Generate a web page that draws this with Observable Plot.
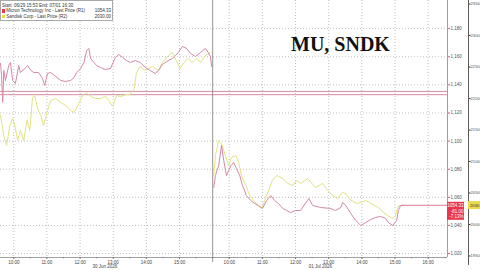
<!DOCTYPE html>
<html><head><meta charset="utf-8">
<script src="https://cdn.jsdelivr.net/npm/d3@7"></script>
<script src="https://cdn.jsdelivr.net/npm/@observablehq/plot@0.6"></script>
<style>
html,body{margin:0;padding:0;background:#fff;}
#wrap{position:relative;width:480px;height:270px;overflow:hidden;background:#fff;}
#legend{position:absolute;left:0;top:0;width:113px;height:21px;border:0.8px solid #a8a8a8;background:#fff;box-sizing:border-box;padding:1.6px 1px 0 1px;font:4.5px "Liberation Sans",Arial,sans-serif;color:#333;line-height:5.6px;}
#legend .row{display:flex;align-items:center;white-space:nowrap;}
#legend .sw{width:3px;height:3.4px;margin-right:1.2px;flex:none;}
#legend .lab{flex:1;}
#legend .val{text-align:right;}
#title{position:absolute;left:291px;top:34px;font:bold 20px "Liberation Serif","Times New Roman",serif;color:#111;line-height:20px;white-space:nowrap;}
</style></head>
<body><div id="wrap"></div>
<script>
// ---------------- data ----------------
const muName = "Micron Technology Inc - Last Price (R1)";
const sndkName = "Sandisk Corp - Last Price (R2)";
const titleText = "MU, SNDK";
const rangeText = "Start: 06/29 15:53 End: 07/01 16:30";
const dayLabels = ["30 Jun 2026", "01 Jul 2026"];

const muLast = 1054.33;
const muChange = -81.00;
const muPct = -7.13;
const sndkLast = 2030.00;
const sndkPrevClose = 2206;

const muTicks = [1020, 1040, 1060, 1080, 1100, 1120, 1140, 1160, 1180];
const sndkTicks = [1950, 2000, 2050, 2100, 2150, 2200, 2250, 2300, 2350];
const muDomain = [1017.2, 1200];
const sndkDomain = [1947.6, 2355.5];
const day1Hours = ["10:00", "11:00", "12:00", "13:00", "14:00", "15:00"];
const day2Hours = ["10:00", "11:00", "12:00", "13:00", "14:00", "15:00", "16:00"];
const sessionOpen = "09:30";
const sessionClose = "16:00";
const axisStart = "09:36";
const axisEnd = "16:35";

const muDay1Times = ["09:36","09:38","09:40","09:42","09:45","09:51","09:54","09:58","10:03","10:09","10:12","10:20","10:25","10:31","10:36","10:45","10:52","10:56","11:01","11:07","11:16","11:25","11:34","11:43","11:49","11:54","12:01","12:07","12:12","12:16","12:19","12:25","12:30","12:37","12:46","12:55","13:04","13:10","13:17","13:24","13:31","13:40","13:49","13:58","14:07","14:16","14:22","14:29","14:40","14:47","14:58","15:05","15:13","15:20","15:29","15:38","15:47","15:52","15:56","15:58"];
const muDay1Values = [1155.2,1146.7,1127.5,1150.2,1143.1,1153.8,1155.9,1143.1,1141.0,1153.8,1148.8,1151.6,1153.8,1150.2,1148.8,1148.8,1144.5,1139.5,1148.1,1148.8,1145.9,1143.1,1142.4,1143.1,1145.2,1148.8,1151.6,1155.9,1164.4,1165.9,1158.8,1155.9,1153.8,1152.3,1150.9,1151.6,1159.5,1161.6,1159.5,1157.3,1155.9,1157.3,1155.9,1152.3,1150.2,1148.1,1150.2,1154.5,1157.3,1158.8,1163.0,1167.3,1165.9,1162.3,1160.2,1163.0,1165.9,1163.0,1160.2,1153.1];

const muDay2Times = ["09:32","09:35","09:41","09:46","09:50","09:55","10:03","10:08","10:13","10:19","10:24","10:31","10:39","10:46","10:53","11:00","11:08","11:15","11:22","11:29","11:37","11:44","11:51","12:00","12:09","12:24","12:31","12:45","13:03","13:12","13:22","13:25","13:31","13:40","13:49","13:58","14:07","14:16","14:25","14:34","14:43","14:48","14:56","15:03","15:06","15:10","15:14"];
const muDay2Values = [1067.0,1075.5,1082.7,1096.9,1086.2,1075.5,1082.7,1084.8,1080.5,1075.5,1068.4,1061.3,1057.8,1055.6,1054.2,1052.1,1057.8,1061.3,1057.8,1055.6,1052.1,1050.6,1049.2,1050.6,1050.6,1059.2,1054.2,1052.8,1052.1,1050.6,1052.8,1056.3,1054.2,1048.5,1043.5,1040.0,1042.1,1044.2,1045.7,1046.4,1045.0,1042.1,1040.0,1043.5,1050.6,1054.2,1054.33];

const sndkDay1Times = ["09:36","09:42","09:47","09:53","09:58","10:02","10:07","10:12","10:18","10:24","10:29","10:34","10:38","10:43","10:49","10:54","11:01","11:07","11:16","11:25","11:34","11:43","11:49","11:56","12:05","12:12","12:19","12:28","12:37","12:46","12:52","12:59","13:06","13:14","13:23","13:31","13:38","13:42","13:49","13:56","14:04","14:11","14:22","14:29","14:40","14:47","14:54","15:01","15:08","15:16","15:23","15:30","15:38","15:47","15:56"];
const sndkDay1Values = [2173.0,2141.3,2125.4,2157.1,2168.2,2157.1,2133.3,2149.2,2133.3,2165.1,2149.2,2201.6,2204.7,2184.1,2173.0,2157.1,2180.9,2196.8,2200.0,2193.6,2188.9,2180.9,2177.8,2188.9,2204.7,2209.5,2203.2,2200.0,2200.0,2203.2,2196.8,2187.3,2204.7,2203.2,2206.3,2206.3,2215.8,2241.2,2250.8,2244.4,2247.6,2250.8,2244.4,2257.1,2268.2,2273.0,2260.3,2247.6,2257.1,2263.5,2257.1,2263.5,2257.1,2268.2,2273.0];

const sndkDay2Times = ["09:32","09:35","09:41","09:46","09:50","09:53","09:59","10:04","10:12","10:17","10:22","10:30","10:37","10:44","10:51","10:59","11:04","11:11","11:18","11:26","11:37","11:46","11:55","12:02","12:09","12:22","12:36","12:49","12:58","13:07","13:16","13:25","13:31","13:40","13:52","14:07","14:16","14:30","14:39","14:47","14:56","15:01","15:06","15:14"];
const sndkDay2Values = [2077.8,2109.5,2133.3,2128.6,2117.4,2109.5,2093.6,2106.3,2109.5,2098.4,2077.8,2061.9,2046.0,2038.1,2030.2,2025.4,2038.1,2054.0,2069.8,2077.8,2073.0,2065.1,2061.9,2069.8,2065.1,2073.0,2058.7,2065.1,2054.0,2046.0,2041.3,2050.8,2049.2,2038.1,2033.3,2038.1,2033.3,2027.0,2019.1,2014.3,2009.5,2014.3,2030.2,2030.0];

// ---------------- helpers ----------------
const hrs = s => { const [h, m] = s.split(":").map(Number); return h + m / 60; };
const sessionLen = hrs(sessionClose) - hrs(sessionOpen);
const toT = (day, s) => (day - 1) * sessionLen + hrs(s) - hrs(sessionOpen);
const sToMu = d3.scaleLinear().domain(sndkDomain).range(muDomain);

function series(day, times, values, mapFn) {
  const n = Math.min(times.length, values.length);
  return d3.range(n).map(i => ({day, t: toT(day, times[i]), v: mapFn ? mapFn(values[i]) : values[i]}));
}
const muData = [...series(1, muDay1Times, muDay1Values), ...series(2, muDay2Times, muDay2Values)];
const sndkData = [...series(1, sndkDay1Times, sndkDay1Values, sToMu), ...series(2, sndkDay2Times, sndkDay2Values, sToMu)];

const X0 = toT(1, axisStart), X1 = toT(2, axisEnd);
const hourLabel = new Map();
day1Hours.forEach(h => hourLabel.set(+toT(1, h).toFixed(4), h));
day2Hours.forEach(h => hourLabel.set(+toT(2, h).toFixed(4), h));
const hourT = [...hourLabel.keys()];
const halfT = [];
for (let d = 1; d <= 2; d++) {
  for (let h = 9.5; h <= 16.5; h += 0.5) {
    const t = (d - 1) * sessionLen + h - hrs(sessionOpen);
    if (t >= X0 && t <= X1 && (h % 1) !== 0) halfT.push(t);
  }
}
const midDay = sessionLen / 2;
const dateT = [midDay, sessionLen + midDay];
const lastT = muData[muData.length - 1].t;
const muPrevClose = muLast - muChange;

const pink = "#e0587a";
const chart = Plot.plot({
  width: 480, height: 270,
  marginLeft: 0, marginRight: 33, marginTop: 0, marginBottom: 13,
  style: {fontFamily: '"Liberation Sans", Arial, sans-serif', fontSize: "4.5px", background: "#fff", overflow: "visible"},
  x: {domain: [X0, X1]},
  y: {domain: muDomain},
  marks: [
    Plot.gridX({ticks: hourT, stroke: "#b0b0b0", strokeOpacity: 1, strokeWidth: 0.8, strokeDasharray: "1,2"}),
    Plot.gridY({ticks: muTicks, stroke: "#b0b0b0", strokeOpacity: 1, strokeWidth: 0.8, strokeDasharray: "1,2"}),
    Plot.ruleX([toT(2, sessionOpen)], {stroke: "#7a7a7a", strokeWidth: 0.8, insetBottom: -5}),
    Plot.ruleY([muPrevClose, sToMu(sndkPrevClose)], {stroke: "#c45a7c", strokeWidth: 0.7}),
    Plot.line(sndkData, {x: "t", y: "v", z: "day", stroke: "#e2e283", strokeWidth: 1}),
    Plot.line(muData, {x: "t", y: "v", z: "day", stroke: "#d488a8", strokeWidth: 1}),
    Plot.ruleY([muLast], {x1: () => lastT, x2: () => X1, stroke: pink, strokeWidth: 0.8}),
    Plot.ruleY([muDomain[0]], {stroke: "#8a8a8a", strokeWidth: 0.8}),
    Plot.ruleX([X1], {stroke: pink, strokeWidth: 0.8}),
    Plot.ruleX([X1], {stroke: "#333", strokeWidth: 0.8, dx: 21, insetBottom: -8}),
    Plot.axisX({ticks: hourT, tickFormat: t => hourLabel.get(+t.toFixed(4)), tickSize: 2, tickPadding: 1, stroke: "#777", fill: "#444", label: null}),
    Plot.axisX({ticks: halfT, tickFormat: () => "", tickSize: 1.2, tickPadding: 0, stroke: "#777", label: null}),
    Plot.axisX({ticks: dateT, tickFormat: (t, i) => dayLabels[i], tickSize: 0, tickPadding: 7.5, fill: "#444", label: null}),
    Plot.axisY({anchor: "right", ticks: muTicks, tickSize: 2, tickPadding: 1, stroke: pink, fill: "#555", label: null}),
    Plot.axisY({anchor: "right", ticks: sndkTicks.map(sToMu), tickFormat: v => String(Math.round(sToMu.invert(v))), tickSize: 1.5, tickPadding: 0.5, dx: 21, stroke: "#333", fill: "#555", fontSize: 4.2, label: null}),
    Plot.rect([muLast], {x1: () => X1, x2: () => X1, y1: d => d, y2: d => d, insetLeft: 0, insetRight: -17, insetTop: -3, insetBottom: -15, fill: "#e8344e"}),
    Plot.text([muLast], {x: () => X1, y: d => d, text: () => `${muLast.toFixed(2)}\n${muChange.toFixed(2)}\n${muPct.toFixed(2)}%`, textAnchor: "end", lineAnchor: "top", lineHeight: 1.2, dx: 16, dy: -2, fill: "#fff", fontSize: 4.5}),
    Plot.rect([sToMu(sndkLast)], {x1: () => X1, x2: () => X1, y1: d => d, y2: d => d, insetLeft: 21, insetRight: -40, insetTop: -4, insetBottom: -4, fill: "#eadb4c"}),
    Plot.text([sToMu(sndkLast)], {x: () => X1, y: d => d, text: () => sndkLast.toFixed(0), textAnchor: "start", dx: 22.5, fill: "#333", fontSize: 4.2})
  ]
});

const wrap = document.getElementById("wrap");
wrap.appendChild(chart);

const title = document.createElement("div");
title.id = "title";
title.textContent = titleText;
wrap.appendChild(title);

const legend = document.createElement("div");
legend.id = "legend";
legend.innerHTML = `<div class="row"><span class="lab">${rangeText}</span></div>
<div class="row"><span class="sw" style="background:#e8344e"></span><span class="lab">${muName}</span><span class="val">${muLast.toFixed(2)}</span></div>
<div class="row"><span class="sw" style="background:#eadb4c"></span><span class="lab">${sndkName}</span><span class="val">${sndkLast.toFixed(2)}</span></div>`;
wrap.appendChild(legend);
</script>
</body></html>
